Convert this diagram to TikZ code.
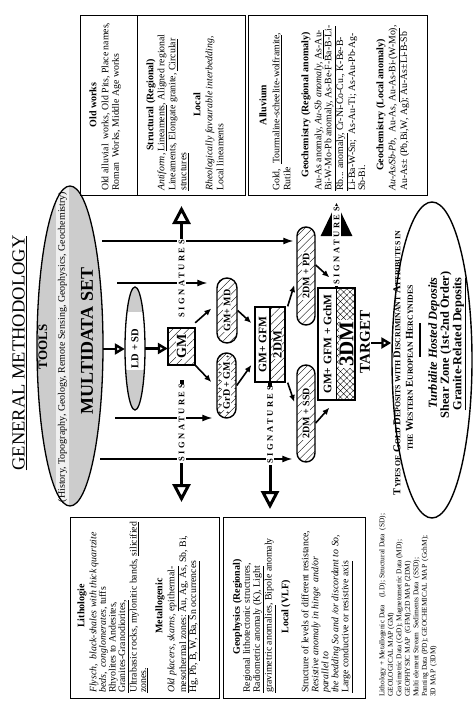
\documentclass[tikz,border=0pt]{standalone}
\usepackage{fontspec}
\setmainfont{Liberation Serif}
\newfontfamily\sigfont[LetterSpace=30]{Liberation Serif}
\usetikzlibrary{arrows.meta,patterns,patterns.meta,shapes.geometric}
\newcommand\fs[1]{\fontsize{#1}{#1}\selectfont}
\newcommand\SC[2]{{\fontsize{10.5}{11}\selectfont #1}{\fontsize{7.8}{11}\selectfont #2}}
\tikzdeclarepattern{
  name=pluses,
  type=uncolored,
  tile size={(8pt,8pt)},
  bounding box={(0pt,0pt) and (8pt,8pt)},
  code={\draw[line width=0.4pt] (2.5pt,4pt) -- (5.5pt,4pt) (4pt,2.5pt) -- (4pt,5.5pt);}
}
\tikzset{
  rt/.style={rotate=90, inner sep=0pt},
  body/.style={rt, anchor=north west, align=left},
  head/.style={rt, font=\fs{10}\bfseries},
  boxframe/.style={draw, line width=1pt},
  sig/.style={rt, fill=white, inner sep=1.2pt, font=\sigfont\fs{8.5}\bfseries},
  longarrow/.style={line width=1.3pt, -{Latex[length=10pt,width=7pt]}},
  shortarrow/.style={line width=1.6pt, -{Latex[length=7pt,width=6pt]}},
  openarrow/.style={line width=2.4pt, -{Triangle[open,length=10pt,width=11pt]}},
  bigopen/.style={line width=3pt, -{Triangle[open,length=18pt,width=18pt]}},
  hatch/.style={pattern={Lines[angle=45,distance=5.5pt,line width=0.35pt]}},
  xhatch/.style={pattern={Hatch[angle=45,distance=4.5pt,line width=0.35pt]}},
  pill/.style={draw, line width=1.4pt, inner sep=0pt, hatch},
  mbox/.style={draw, line width=1.3pt, inner sep=0pt},
  btxt/.style={rt, fill=white, inner sep=0.8pt, font=\fs{10}\bfseries}
}
\begin{document}
\begin{tikzpicture}[x=1pt,y=1pt]
\useasboundingbox (0,0) rectangle (474,-712);

% ---------- title ----------
\node[rt, font=\fs{18.5}] (title) at (19.5,-353) {\underline{GENERAL METHODOLOGY}};

% ---------- multidata ellipse ----------
\node[ellipse, fill=black!20, minimum width=66pt, minimum height=320pt, inner sep=0pt] (BE) at (70,-346) {};
\begin{scope}
  \clip (BE.center) ellipse (33 and 160);
  \fill[black!6] (56,-180) rectangle (69,-520);
\end{scope}
\draw[line width=1.3pt] (BE.center) ellipse (33 and 160);
\node[rt, font=\fs{13}\bfseries] (tools) at (43,-347) {TOOLS};
\node[rt, font=\fs{10}] (hist) at (62.5,-347) {(History, Topography, Geology, Remote Sensing, Geophysics, Geochemistry)};
\node[rt, font=\fs{18}\bfseries] (mds) at (87,-341) {MULTIDATA SET};

% ---------- LD + SD ----------
\node[ellipse, fill=black!20, minimum width=20pt, minimum height=123pt, inner sep=0pt] (LD) at (135,-348.5) {};
\begin{scope}
  \clip (LD.center) ellipse (10 and 61.5);
  \fill[white] (120,-312) rectangle (150,-370);
\end{scope}
\draw[line width=1.3pt] (LD.center) ellipse (10 and 61.5);
\node[rt, font=\fs{10.5}\bfseries] (ldt) at (LD) {LD + SD};

% ---------- boxes of the flow ----------
\node[mbox, hatch, minimum width=27pt, minimum height=37pt] (GM) at (181.5,-346.5) {};
\node[btxt, font=\fs{14}\bfseries] (gmt) at (GM) {GM};

\node[pill, rounded corners=10pt, minimum width=20pt, minimum height=65pt] (GMMD) at (227,-310.5) {};
\node[btxt] at (GMMD) {GM+ MD};

\path[pattern=pluses, rounded corners=9.5pt] (217,-353) rectangle (236,-418);
\node[pill, rounded corners=9.5pt, minimum width=19pt, minimum height=65pt] (GRD) at (226.5,-385.5) {};
\node[btxt] at (GRD) {GrD + GM};

\node[mbox, minimum width=30pt, minimum height=75pt] (GF) at (270,-344.5) {};
\path[hatch] (GF.north) rectangle (GF.south east);
\draw[line width=1.3pt] (GF.south west) rectangle (GF.north east);
\draw[line width=1.3pt] (GF.north) -- (GF.south);
\node[rt, font=\fs{11.5}\bfseries] at (262.5,-344.5) {GM+ GFM};
\node[btxt, font=\fs{12.5}\bfseries] at (277.5,-344.5) {2DM};

\node[pill, rounded corners=9pt, minimum width=18pt, minimum height=98pt] (PD) at (306,-276) {};
\node[btxt] at (PD) {2DM + PD};
\node[pill, rounded corners=9pt, minimum width=18pt, minimum height=97pt] (SSD) at (306,-413.5) {};
\node[btxt] at (SSD) {2DM + SSD};

\node[mbox, minimum width=37pt, minimum height=112pt] (TD) at (336.5,-344) {};
\path[xhatch] (TD.north) rectangle (TD.south east);
\draw[line width=1.3pt] (TD.south west) rectangle (TD.north east);
\draw[line width=1.3pt] (TD.north) -- (TD.south);
\node[rt, font=\fs{11.5}\bfseries] at (327.5,-344) {GM+ GFM + GchM};
\node[btxt, font=\fs{21}\bfseries] at (346.5,-344) {3DM};

\node[rt, font=\fs{15}\bfseries] (TG) at (365,-342) {TARGET};

% ---------- types ellipse ----------
\node[ellipse, draw, line width=1.4pt, minimum width=80pt, minimum height=316pt, inner sep=0pt] (TY) at (432,-360) {};
\node[rt, font=\bfseries] (ty1) at (397,-363) {\SC{T}{YPES OF} \SC{G}{OLD} \SC{D}{EPOSITS WITH} \SC{D}{ISCRIMINANT} \SC{A}{TTRIBUTES IN}};
\node[rt, font=\bfseries] (ty2) at (409.5,-368) {\SC{}{THE} \SC{W}{ESTERN} \SC{E}{UROPEAN} \SC{H}{ERCYNIDES}};
\draw[line width=2pt] (420,-323) -- (420,-357);
\node[rt, font=\fs{12.3}\bfseries\itshape] (ty3) at (434,-343) {Turbidite Hosted Deposits};
\node[rt, font=\fs{12.3}\bfseries] (ty4) at (446,-345) {Shear Zone (1st-2nd Order)};
\node[rt, font=\fs{12.3}\bfseries] (ty5) at (459.5,-344) {\underline{Granite-Related Deposits}};

% ---------- long arrows ----------
\coordinate (l1) at (102,-241);
\coordinate (l2) at (117,-283);
\coordinate (l3) at (115,-418);
\coordinate (l4) at (100,-459);
\draw[longarrow, shorten >=3pt] (l1) -- (PD.west |- l1);
\draw[longarrow, shorten >=9pt] (l2) -- (GMMD.west |- l2);
\draw[longarrow, shorten >=4pt] (l3) -- (GRD.west |- l3);
\draw[longarrow, shorten >=4pt] (l4) -- (SSD.west |- l4);

% ---------- open arrows ----------
\coordinate (be1) at ([yshift=-3pt]BE.east);
\draw[openarrow] (be1) -- (LD.west |- be1);
\draw[openarrow] (LD.east) -- (GM.west |- LD.east);
\coordinate (tgt) at (371,-343);
\draw[openarrow] (tgt) -- (TY.west |- tgt);

% ---------- short arrows ----------
\draw[shortarrow] ([yshift=5pt]GM.north east) -- ([shift={(-5pt,2pt)}]GMMD.west);
\draw[shortarrow] (GM.south east) -- ([shift={(-5pt,3.5pt)}]GRD.west);
\draw[shortarrow] (GMMD.east) -- ([shift={(-3pt,21.5pt)}]GF.west);
\draw[shortarrow] (GRD.east) -- ([shift={(-3pt,-20.5pt)}]GF.west);
\draw[shortarrow] ([xshift=2pt]GF.north east) -- ([shift={(-2pt,-9pt)}]PD.west);
\draw[shortarrow] ([xshift=2pt]GF.south east) -- ([shift={(-2pt,11.5pt)}]SSD.west);
\draw[shortarrow] ([yshift=11pt]PD.east) -- ([shift={(12pt,10pt)}]TD.north west);
\draw[shortarrow] ([yshift=-9.5pt]SSD.east) -- ([shift={(12pt,-7pt)}]TD.south west);

% ---------- big arrows with signatures ----------
\coordinate (u1a) at (181.5,-241);
\coordinate (u1b) at (181.5,-206);
\draw[bigopen] (u1a) -- (u1b);
\coordinate (d1a) at (181.5,-461);
\coordinate (d1b) at (181.5,-502);
\draw[bigopen] (d1a) -- (d1b);
\coordinate (d2a) at (270,-461);
\coordinate (d2b) at (270,-509);
\draw[bigopen] (d2a) -- (d2b);
\coordinate (u2b) at (336.5,-203);
\draw[line width=3pt, -{Triangle[length=33pt,width=31pt]}] (TD.north) -- (u2b);

\node[sig] (s1) at (181.5,-279) {SIGNATURES};
\node[sig] (s2) at (181.5,-423) {SIGNATURES};
\node[sig] (s3) at (270,-425) {SIGNATURES};
\node[sig] (s4) at (336.5,-246) {SIGNATURES};
\fill (179.5,-380) rectangle (183.5,-384);
\fill (268,-383) rectangle (272,-387);

% ---------- top right boxes ----------
\draw[boxframe] (80,-15) rectangle (245,-195);
\draw[boxframe] (137,-15) -- (137,-195);
\node[head] (h1) at (93,-105) {Old works};
\node[body, font=\fontsize{9.8}{10.5}\selectfont] (b1) at (101.3,-191) {Old alluvial\ \ works, Old Pits, Place names,\\Roman\ \ Works, Middle Age works};
\node[head] (h2) at (151,-105) {Structural (Regional)};
\node[body, font=\fontsize{9.8}{11}\selectfont] (b2) at (157.3,-191) {\textit{Antiform}, \underline{Lineaments}, Aligned regional\\Lineaments, Elongate granite, \underline{Circular}\\\underline{structures}};
\node[head] (h3) at (197,-105) {Local};
\node[body, font=\fontsize{9.8}{11}\selectfont] (b3) at (205.3,-191) {\textit{Rheologically favourable interbedding},\\Local lineaments};

\draw[boxframe] (248,-15) rectangle (427,-195);
\node[head] (h4) at (263,-105) {Alluvium};
\node[body, font=\fontsize{9.8}{11}\selectfont] (b4) at (272.3,-191) {Gold,\ \ \underline{Tourmaline-scheelite-wolframite},\\Rutile};
\node[head] (h5) at (306,-105) {Geochemistry (Regional anomaly)};
\node[body, font=\fontsize{9.8}{10}\selectfont] (b5) at (314.3,-191) {Au-As anomaly, \textit{Au-Sb anomaly}, \underline{As-Au-}\\\underline{Bi-W-Mo-Pb anomaly, As-Be-F-Ba-B-Li-}\\\underline{Rb... anomaly,} Cr-Ni-Co-Cu., K-Be-B-\\Li-Ba-W-Sn;\ \ As-Au-Ti; As-Au-Pb-Ag-\\Sb-Bi.};
\node[head] (h6) at (381,-105) {Geochemistry (Local anomaly)};
\node[body, font=\fontsize{9.8}{10}\selectfont] (b6) at (388.3,-191) {\textit{Au-As/Sb-Pb},\ \ Au-As, \underline{Au-As-Bi-(W-Mo)},\\Au-As\textpm{} (Pb,Bi,W, Ag); Au-As\textpm Li-B-Sb};

% ---------- bottom left boxes ----------
\draw[boxframe] (70,-517) rectangle (219,-698);
\node[head] (h7) at (82,-606) {Lithologie};
\node[body, font=\fontsize{9.8}{9.6}\selectfont] (b7) at (89.3,-693) {\textit{Flysch,\ \ black-shales with thick quartzite}\\\textit{beds,\ \ conglomerates,} tuffs\\Rhyolites to Andesites,\\\underline{Granites-Granodiorites,}\\Ultrabasic rocks, mylonitic bands, \underline{silicified}\\\underline{zones.}};
\node[head] (h8) at (160,-606) {Metallogenic};
\node[body, font=\fontsize{9.8}{10}\selectfont] (b8) at (167.3,-693) {\textit{Old placers, skarns,} \underline{epithermal-}\\\underline{mesothermal zones:} Au, Ag, As, Sb, Bi,\\Hg, Pb, \underline{B, W, Ba, Sn occurrences}};

\draw[boxframe] (223,-517) rectangle (365,-698);
\node[head] (h9) at (237.5,-607) {Geophysics (Regional)};
\node[body, font=\fontsize{9.8}{10}\selectfont] (b9) at (242.8,-693) {Regional lithotectonic structures,\\\underline{Radiometric anomaly (K), Light}\\\underline{gravimetric anomalies}, Bipole anomaly};
\node[head] (h10) at (286,-607) {Local (VLF)};
\node[body, font=\fontsize{9.8}{10}\selectfont] (b10) at (301.3,-693) {Structure of levels of different resistance,\\\textit{Resistive anomaly in hinge\ \ and/or}\\\textit{parallel to}\\\textit{the bedding So and /or discordant to So,}\\\underline{Large conductive or resistive axis}};

% ---------- legend ----------
\node[body, font=\fontsize{7.4}{8.5}\selectfont] (legend) at (379,-697) {Lithology + Metallogenic Data\ \ \ \ (LD); Structural Data\ \ (SD);\\GEOLOGICAL MAP (GM)\\Gravimetric Data (GrD); Magnetometric Data (MD);\\GEOPHYSIC MAP\ \ (GFM);2D MAP (2DM)\\Multi element Stream\ \ Sediments Data\ \ (SSD);\\Panning Data (PD); GEOCHEMICAL MAP\ \ (GchM);\\3D MAP\ \ (3DM)};
\end{tikzpicture}
\end{document}
